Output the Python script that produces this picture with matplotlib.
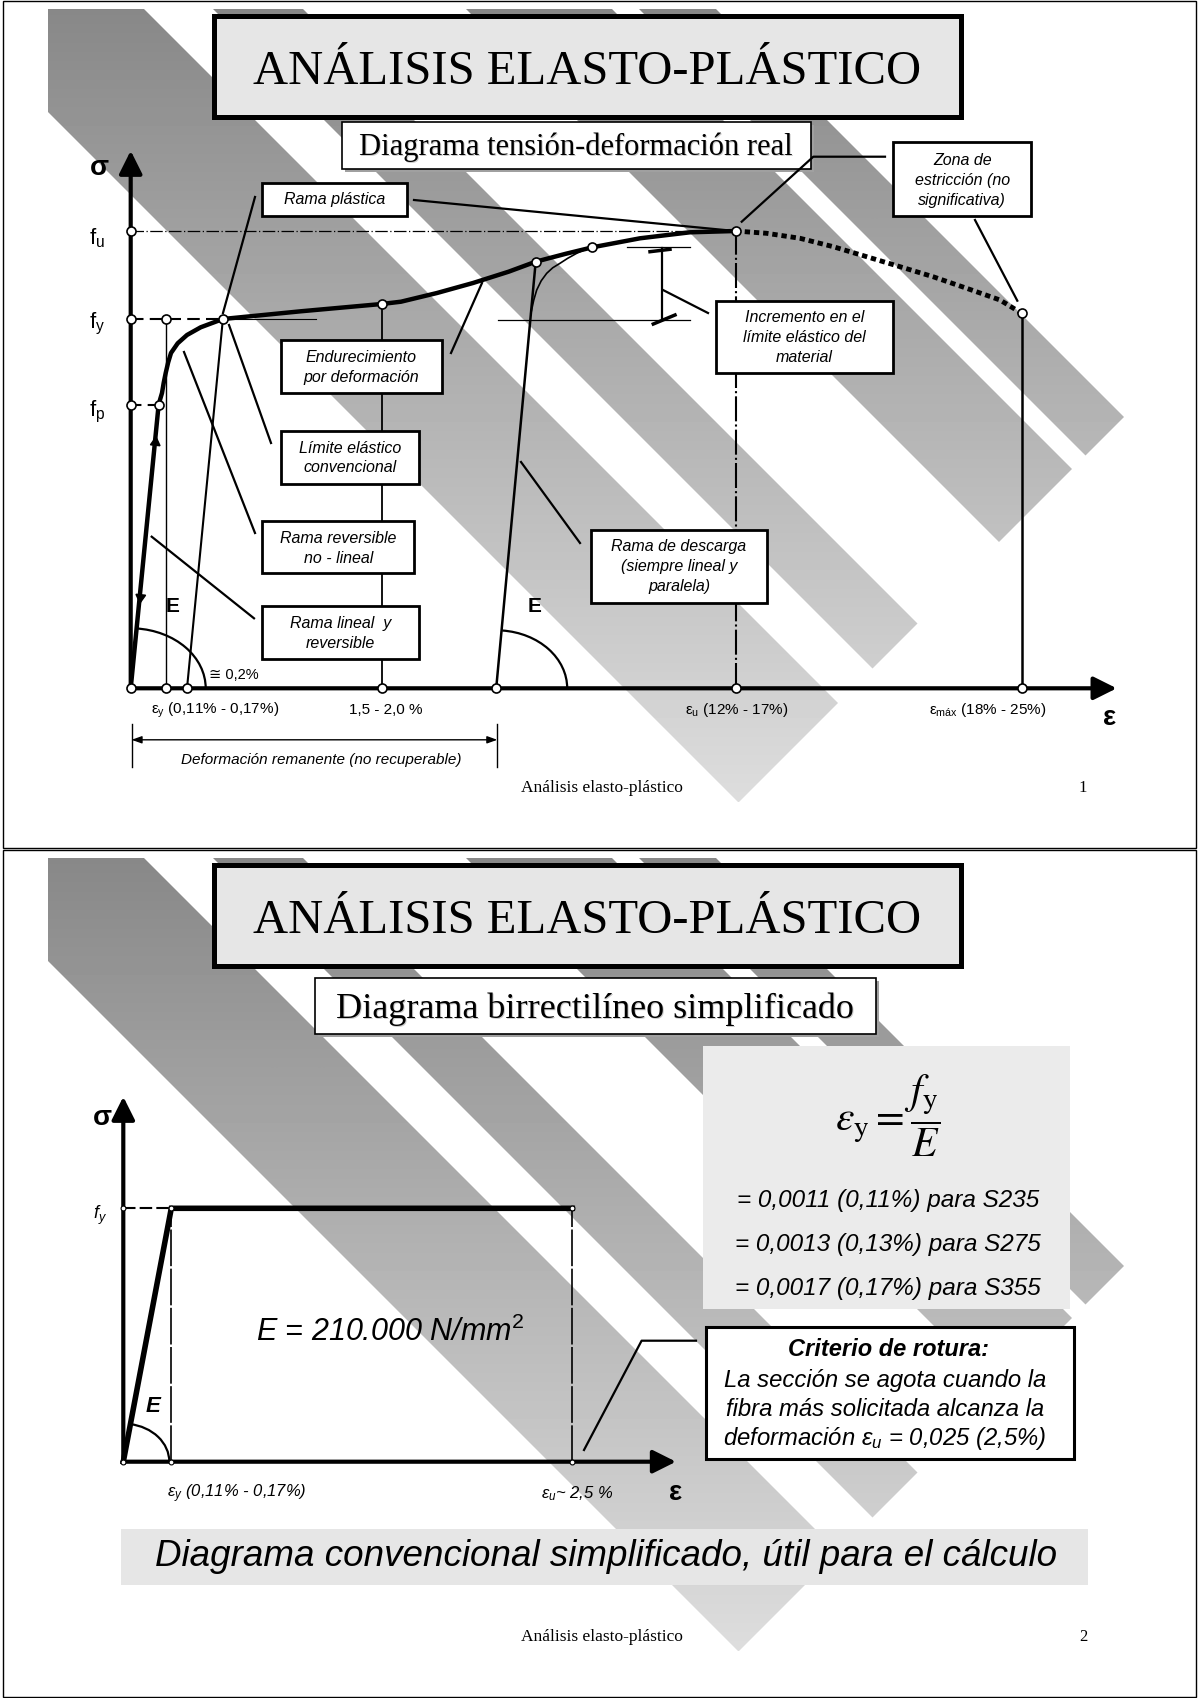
import numpy as np
import matplotlib
matplotlib.use("Agg")
import matplotlib.pyplot as plt
from matplotlib.patches import Rectangle, Arc, PathPatch
from matplotlib.path import Path

plt.rcParams['font.family'] = ['Liberation Sans', 'DejaVu Sans']
plt.rcParams['mathtext.fontset'] = 'custom'
plt.rcParams['mathtext.rm'] = 'Liberation Sans'
plt.rcParams['mathtext.it'] = 'Liberation Sans:italic'
plt.rcParams['mathtext.bf'] = 'Liberation Sans:bold'

W, H = 1200, 1698
OFF = 849  # top of the second slide

# ---------- slide 1: real stress-strain diagram (units: px right/up of origin) ----------
f_u, f_y, f_p = 457, 369, 283
eps_y, eps_02, eps_hard, eps_rem, eps_u, eps_max = 35, 56.3, 251, 365.5, 604.8, 891
sig_max = 375

curve_x = [0, 27.9, 29.6, 31.3, 33.0, 35, 37.5, 40.3, 47, 56.3, 70, 92.2, 170, 251,
           270.3, 306.3, 342.3, 377.9, 405, 435, 461.7, 509.3, 559.3, 604.8]
curve_y = [0, 283.3, 289.5, 295.3, 305.5, 315.3, 326, 335.3, 345, 353.3, 361, 369.3, 377, 384.3,
           386.6, 395.3, 405.3, 416.6, 426.6, 434.5, 441, 450, 456, 457.3]
neck_x = [604.8, 636, 669.3, 702.6, 736, 769.3, 802.3, 836, 869.3, 891]
neck_y = [457.3, 455, 450, 441.6, 431.6, 421.6, 411.6, 400, 388.3, 375]
reload_x = [400.2, 403, 406, 410.5, 416, 422, 429.3, 437, 446, 454, 461.7]
reload_y = [375, 388, 398.3, 407.5, 415, 420.5, 425, 430, 435, 438.5, 441]
unload_x = [405, eps_rem]
unload_y = [426.6, 0]
offset_x = [eps_02, 92.2]
offset_y = [0, 369.3]
pts1_x = [0, 0, eps_y, 92.2, 0, 27.9, 251, 405, 461.7, eps_u, eps_max,
          0, eps_y, eps_02, eps_hard, eps_rem, eps_u, eps_max]
pts1_y = [f_u, f_y, f_y, 369.3, f_p, f_p, 384.3, 426.6, 441, f_u, sig_max,
          0, 0, 0, 0, 0, 0, 0]
axis_labels1 = ['ε$_\\mathregular{y}$ (0,11% - 0,17%)', '1,5 - 2,0 %',
                'ε$_\\mathregular{u}$ (12% - 17%)', 'ε$_{\\mathregular{máx}}$ (18% - 25%)']
axis_label1_x = [84.1, 255.3, 605.8, 857.3]
level_labels1 = ['f$_\\mathregular{u}$', 'f$_\\mathregular{y}$', 'f$_\\mathregular{p}$']
level_label1_y = [449.8, 364.3, 276.3]

# ---------- slide 2: simplified bilinear diagram ----------
fy2 = 253.4
ey2 = 48
eu2 = 449
bilin_x = [0, ey2, eu2]
bilin_y = [0, fy2, fy2]
pts2_x = [0, ey2, eu2, 0, ey2, eu2]
pts2_y = [0, 0, 0, fy2, fy2, fy2]
steels = ['S235', 'S275', 'S355']
eps_y_steel = ['0,0011', '0,0013', '0,0017']
eps_y_pct = ['0,11%', '0,13%', '0,17%']

fig = plt.figure(figsize=(W / 100, H / 100), dpi=100)
ax = fig.add_axes([0, 0, 1, 1])
ax.axis('off')


def clip_poly(pts, a, b, c):
    # keep the part with a*x + b*y <= c
    out = []
    for i in range(len(pts)):
        p, q = pts[i], pts[(i + 1) % len(pts)]
        fp = a * p[0] + b * p[1] - c
        fq = a * q[0] + b * q[1] - c
        if fp <= 0:
            out.append(p)
        if fp * fq < 0:
            t = fp / (fp - fq)
            out.append((p[0] + t * (q[0] - p[0]), p[1] + t * (q[1] - p[1])))
    return out


# diagonal gradient bands of the slide template
bands = [(-64, 135), (204, 294), (457, 603), (630, 707)]
grad = np.linspace(0x88, 0xdd, 256) / 255
for o in (0, OFF):
    verts, codes = [], []
    for c0, c1 in bands:
        cd = [(c0, -2000), (c1, -2000), (c1, 1541), (c0, 1541)]
        poly = [((c + d) / 2, (d - c) / 2) for c, d in cd]
        poly = clip_poly(poly, 0, -1, -9)
        poly = clip_poly(poly, -1, 0, -48)
        verts += [(x, y + o) for x, y in poly] + [(0, 0)]
        codes += [Path.MOVETO] + [Path.LINETO] * (len(poly) - 1) + [Path.CLOSEPOLY]
    clip = PathPatch(Path(verts, codes), transform=ax.transData, fc='none', ec='none')
    ax.add_patch(clip)
    im = ax.imshow(np.tile(grad[:, None], (1, 2)), cmap='gray', vmin=0, vmax=1,
                   extent=(0, W, o + 802, o + 9), aspect='auto', interpolation='bilinear', zorder=1)
    im.set_clip_path(clip)

ax.set_xlim(0, W)
ax.set_ylim(H, 0)

# slide frames, titles, footers
for i, o in enumerate((0, OFF)):
    ax.add_patch(Rectangle((3, 1 + o), 1193, 847, fill=False, ec='k', lw=1, zorder=2))
    ax.add_patch(Rectangle((214, 16 + o), 747, 101, fc='#e6e6e6', ec='k', lw=3.6, zorder=3))
    ax.text(587, 84 + o, 'ANÁLISIS ELASTO-PLÁSTICO', family='Liberation Serif', size=35,
            ha='center', va='baseline', zorder=4)
    ax.text(602, 788 + o, 'Análisis elasto-plástico', family='Liberation Serif', size=12.5,
            ha='center', va='center', zorder=4)
    ax.text(1083, 788 + o, str(i + 1), family='Liberation Serif', size=12,
            ha='center', va='center', zorder=4)

subtitles = [((342, 122, 811, 169), 576, 155, 'Diagrama tensión-deformación real', 22),
             ((315, 978, 876, 1034), 595, 1018, 'Diagrama birrectilíneo simplificado', 26)]
for (x0, y0, x1, y1), tx, ty, s, fs in subtitles:
    ax.add_patch(Rectangle((x0 + 3, y0 + 3), x1 - x0, y1 - y0, fc='#a0a0a0', ec='none', zorder=3))
    ax.add_patch(Rectangle((x0, y0), x1 - x0, y1 - y0, fc='white', ec='k', lw=1.2, zorder=3))
    ax.text(tx + 1.2, ty + 1.2, s, family='Liberation Serif', size=fs, color='#cccccc',
            ha='center', va='baseline', zorder=4)
    ax.text(tx, ty, s, family='Liberation Serif', size=fs, ha='center', va='baseline', zorder=4)


def diagram_axes(ox, oy, z):
    d = fig.add_axes([0, 0, 1, 1], zorder=z)
    d.set_xlim(-ox, W - ox)
    d.set_ylim(oy - H, oy)
    d.axis('off')
    d.patch.set_alpha(0)
    return d


arrow = dict(arrowstyle='-|>,head_length=0.7,head_width=0.35', lw=3, color='k',
             mutation_scale=20, shrinkA=0, shrinkB=0)

# ================= slide 1 diagram =================
d1 = diagram_axes(130.7, 688.3, 1)
d1.annotate('', xy=(0, 537.6), xytext=(0, -1), arrowprops=arrow, zorder=3)
d1.annotate('', xy=(986, 0), xytext=(-1, 0), arrowprops=arrow, zorder=3)

d1.plot([0, eps_u], [f_u, f_u], color='k', lw=0.9, ls=(0, (10, 2, 1, 2)), zorder=2)
d1.plot([0, 92.2], [f_y, f_y], color='k', lw=1.5, ls=(0, (6, 3)), zorder=2)
d1.plot([92.2, 185], [f_y, f_y], color='k', lw=0.8, zorder=2)
d1.plot([0, 27.9], [f_p, f_p], color='k', lw=1.5, ls=(0, (5, 3)), zorder=2)
d1.plot([eps_y, eps_y], [0, f_y], color='k', lw=1, zorder=2)
d1.plot([eps_hard, eps_hard], [0, 384.3], color='k', lw=1.3, zorder=2)
d1.plot([eps_u, eps_u], [0, f_u], color='k', lw=1.5, ls=(0, (12, 1.5, 1, 1.5)), zorder=2)
d1.plot([eps_max, eps_max], [0, sig_max], color='k', lw=1.8, zorder=2)
d1.plot(offset_x, offset_y, color='k', lw=1.5, zorder=2)
d1.plot(unload_x, unload_y, color='k', lw=1.8, zorder=2)
d1.plot(reload_x, reload_y, color='k', lw=1.2, zorder=2)
d1.plot(curve_x, curve_y, color='k', lw=3.2, solid_joinstyle='round', zorder=3)
d1.plot(neck_x, neck_y, color='k', lw=3.5, ls=(0, (1.1, 0.8)), zorder=3)

# load / unload arrows on the elastic branch
ang = np.degrees(np.arctan2(curve_x[1], curve_y[1]))
d1.plot([24.2], [246], marker=(3, 0, -ang), ms=8, color='k', zorder=4)
d1.plot([9.0], [91.3], marker=(3, 0, 180 - ang), ms=8, color='k', zorder=4)

# increase of yield limit
d1.plot([496, 559.3], [441, 441], color='k', lw=0.9, zorder=2)
d1.plot([367.3, 559.3], [368.3, 368.3], color='k', lw=0.9, zorder=2)
d1.plot([531.6, 531.6], [370, 440], color='k', lw=1.6, zorder=2)
d1.plot([519.3, 539.3], [436.6, 439], color='k', lw=2.5, zorder=2)
d1.plot([522.6, 544.3], [364.3, 373.3], color='k', lw=2.5, zorder=2)

d1.add_patch(Arc((0, 0), 150, 120, theta1=0, theta2=85, lw=1.6, color='k', zorder=2))
d1.add_patch(Arc((eps_rem, 0), 142, 116, theta1=0, theta2=84, lw=1.6, color='k', zorder=2))
d1.text(42.3, 81.3, 'E', weight='bold', size=15, ha='center', va='center')
d1.text(404.3, 81.3, 'E', weight='bold', size=15, ha='center', va='center')
d1.text(78, 13.3, '≅ 0,2%', size=10.5, ha='left', va='center', family=['Liberation Sans', 'DejaVu Sans'])

d1.text(-31.2, 520.3, 'σ', weight='bold', size=20, ha='center', va='center')
d1.text(978.7, -29.7, 'ε', weight='bold', size=20, ha='center', va='center')
for s, y in zip(level_labels1, level_label1_y):
    d1.text(-33.7, y, s, size=16, ha='center', va='center')
for s, x in zip(axis_labels1, axis_label1_x):
    d1.text(x, -21.7, s, size=11, ha='center', va='center')

# remanent strain dimension
d1.annotate('', xy=(0.9, -51.5), xytext=(366.6, -51.5),
            arrowprops=dict(arrowstyle='<|-|>,head_length=0.5,head_width=0.18', lw=1, color='k',
                            mutation_scale=12, shrinkA=0, shrinkB=0))
d1.plot([0.9, 0.9], [-35.3, -78.7], color='k', lw=1)
d1.plot([366.6, 366.6], [-35.3, -78.7], color='k', lw=1)
d1.text(190.6, -72.1, 'Deformación remanente (no recuperable)', style='italic', size=11,
        ha='center', va='center')

# callout boxes and leader lines (page px)
boxes1 = [((262.4, 182.7, 407, 215.7), ['Rama plástica'], [199]),
          ((280.8, 340.4, 442.2, 393), ['Endurecimiento', 'por deformación'], [357.7, 377.8]),
          ((280.8, 430.9, 418.5, 483.5), ['Límite elástico', 'convencional'], [448.2, 467.2]),
          ((262.4, 521.4, 414, 573.4), ['Rama reversible', 'no - lineal'], [538.2, 558.3]),
          ((262.4, 606, 418.5, 658.5), ['Rama lineal  y', 'reversible'], [623.3, 643.4]),
          ((590.7, 530, 767.4, 602.7), ['Rama de descarga', '(siempre lineal y', 'paralela)'],
           [546.3, 567, 587]),
          ((716, 300.8, 893, 373), ['Incremento en el', 'límite elástico del', 'material'],
           [317, 337.7, 357.7]),
          ((893, 142, 1031.4, 215.7), ['Zona de', 'estricción (no', 'significativa)'],
           [160, 180.5, 200.5])]
leaders1 = [[(255, 197), (223, 313)], [(414, 200), (735, 231)],
            [(885, 156.7), (813.3, 156.7), (741.7, 221.7)], [(975, 220), (1017.3, 300.7)],
            [(663, 290), (708, 313)], [(451, 353), (482, 283)], [(271, 443), (229, 325)],
            [(255, 533), (184, 352)], [(580, 543), (521, 462)], [(254, 618.3), (151.7, 536.7)]]
for line in leaders1:
    xs, ys = zip(*line)
    d1.plot(xs, ys, color='k', lw=1.6, transform=ax.transData, zorder=4)
for (x0, y0, x1, y1), lines, ys in boxes1:
    d1.add_patch(Rectangle((x0, y0), x1 - x0, y1 - y0, fc='white', ec='k', lw=2,
                           transform=ax.transData, zorder=5))
    for s, y in zip(lines, ys):
        d1.text((x0 + x1) / 2, y, s, style='italic', size=11.5, ha='center', va='center',
                transform=ax.transData, zorder=6)

d1.plot(pts1_x, pts1_y, ls='none', marker='o', ms=6.5, mfc='white', mec='k', mew=1.2, zorder=7)

# ================= slide 2 diagram =================
d2 = diagram_axes(123.3, 1461.7, 1)
d2.annotate('', xy=(0, 365), xytext=(0, -1), arrowprops=arrow, zorder=3)
d2.annotate('', xy=(552.7, 0), xytext=(-1, 0), arrowprops=arrow, zorder=3)
d2.plot([0, ey2], [fy2, fy2], color='k', lw=1.5, ls=(0, (6, 2)), zorder=2)
d2.plot([ey2, ey2], [0, fy2], color='k', lw=1.2, ls=(0, (22, 1.5)), zorder=2)
d2.plot([eu2, eu2], [0, fy2], color='k', lw=1.2, ls=(0, (22, 1.5)), zorder=2)
d2.plot(bilin_x, bilin_y, color='k', lw=4, solid_joinstyle='miter', zorder=3)
d2.add_patch(Arc((0, 0), 92, 76, theta1=0, theta2=80, lw=1.6, color='k', zorder=2))
d2.plot(pts2_x, pts2_y, ls='none', marker='o', ms=3.5, mfc='white', mec='k', mew=0.8, zorder=7)

d2.text(-20.7, 343.7, 'σ', weight='bold', size=20, ha='center', va='center')
d2.text(552.7, -31.6, 'ε', weight='bold', size=20, ha='center', va='center')
d2.text(-23, 246.2, '$f_y$', size=13, ha='center', va='center')
d2.text(30, 55, 'E', weight='bold', style='italic', size=16, ha='center', va='center')
d2.text(266.7, 129.7, 'E = 210.000 N/mm$^2$', style='italic', size=22, ha='center', va='center')
d2.text(43.4, -31.6, 'ε$_y$ (0,11% - 0,17%)', style='italic', size=12, ha='left', va='center')
d2.text(417.7, -31.6, 'ε$_u$~ 2,5 %', style='italic', size=12, ha='left', va='center')

# formula box
ax.add_patch(Rectangle((703.3, 1046), 366.7, 263.2, fc='#ebebeb', ec='none', zorder=3))
ax.text(888, 1116, r'$\varepsilon_{\mathrm{y}}=\dfrac{f_{\mathrm{y}}}{E}$', math_fontfamily='stix',
        size=30, ha='center', va='center', zorder=4)
for k, (v, p, s) in enumerate(zip(eps_y_steel, eps_y_pct, steels)):
    ax.text(888, 1200.2 + 44 * k, f'= {v} ({p}) para {s}', style='italic', size=17.5,
            ha='center', va='center', zorder=4)

# failure criterion box
d2.plot([696, 641.6, 584], [1340.7, 1340.7, 1450], color='k', lw=1.6, transform=ax.transData, zorder=4)
d2.add_patch(Rectangle((705.9, 1327.3), 367.9, 132, fc='white', ec='k', lw=2.2,
                       transform=ax.transData, zorder=5))
d2.text(889, 1350, 'Criterio de rotura:', weight='bold', style='italic', size=17,
        ha='center', va='center', transform=ax.transData, zorder=6)
crit = ['La sección se agota cuando la', 'fibra más solicitada alcanza la',
        'deformación ε$_u$ = 0,025 (2,5%)']
for k, s in enumerate(crit):
    d2.text(885, 1380 + 29.3 * k, s, style='italic', size=17.2, ha='center', va='center',
            transform=ax.transData, zorder=6)

ax.add_patch(Rectangle((121, 1529), 967, 56, fc='#e6e6e6', ec='none', zorder=3))
ax.text(606, 1557, 'Diagrama convencional simplificado, útil para el cálculo', style='italic',
        size=26.5, ha='center', va='center', zorder=4)

fig.savefig('out.png', dpi=100)
